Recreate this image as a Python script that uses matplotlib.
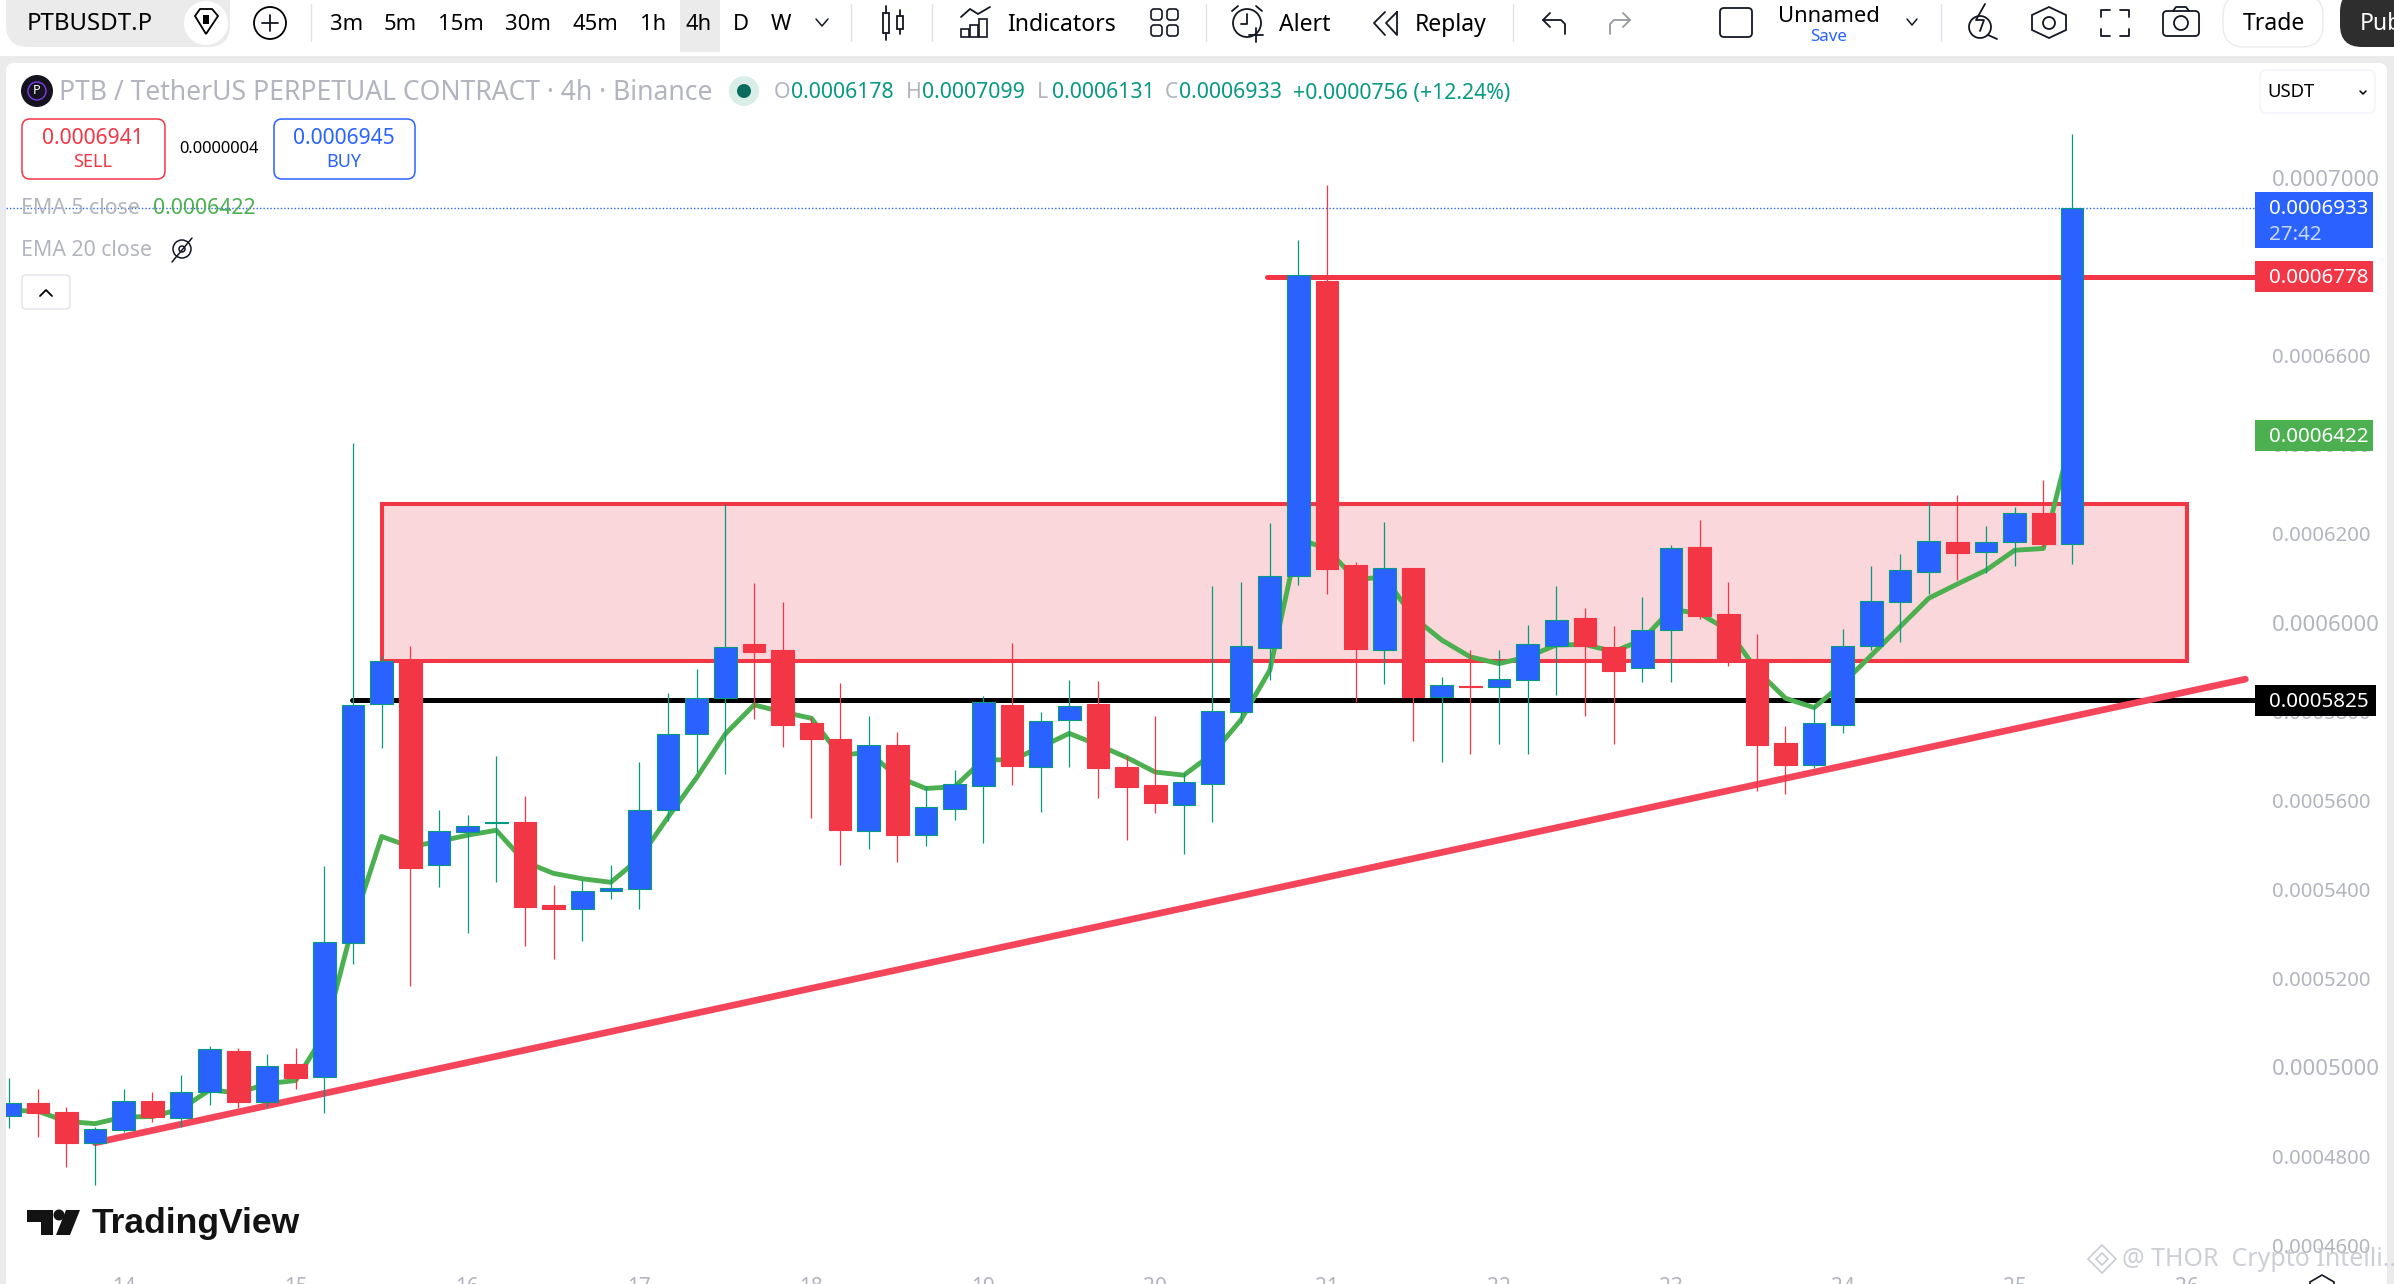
import numpy as np
import matplotlib
matplotlib.use("Agg")
import matplotlib.pyplot as plt
from matplotlib.patches import Rectangle, FancyBboxPatch, Circle, Polygon

plt.rcParams['font.family'] = ['Noto Sans', 'DejaVu Sans']

# ---------- data, prices in units of 1e-7 ----------
opens = [4891, 4920, 4900, 4829, 4859, 4925, 4886, 4944, 5036, 4922, 5008, 4977, 5279, 5818, 5914, 5454, 5530, 5550, 5552,
         5365, 5355, 5397, 5402, 5578, 5750, 5830, 5952, 5939, 5774, 5738, 5532, 5725, 5523, 5582, 5633, 5815, 5676, 5780,
         5817, 5675, 5635, 5591, 5636, 5800, 5942, 6106, 6769, 6130, 5939, 6123, 5833, 5858, 5856, 5870, 5948, 6011, 5945,
         5897, 5984, 6170, 6020, 5918, 5729, 5680, 5770, 5948, 6047, 6113, 6182, 6159, 6182, 6247, 6178]
highs = [4976, 4951, 4911, 4866, 4951, 4944, 4983, 5047, 5043, 5030, 5044, 5453, 6404, 5924, 5947, 5579, 5568, 5701, 5610,
         5411, 5421, 5455, 5687, 5842, 5896, 6267, 6089, 6046, 5787, 5864, 5790, 5754, 5633, 5669, 5835, 5954, 5799, 5871,
         5869, 5701, 5790, 5661, 6083, 6092, 6224, 6861, 6985, 6137, 6227, 6123, 5878, 5939, 5939, 5995, 6083, 6033, 5993,
         6058, 6174, 6231, 6092, 5975, 5768, 5815, 5986, 6128, 6155, 6272, 6287, 6218, 6260, 6322, 7099]
lows = [4864, 4843, 4776, 4735, 4855, 4876, 4866, 4915, 4908, 4910, 4952, 4897, 5232, 5718, 5183, 5406, 5302, 5417, 5273,
        5243, 5284, 5378, 5356, 5554, 5665, 5660, 5784, 5720, 5560, 5455, 5491, 5462, 5498, 5556, 5504, 5635, 5574, 5675,
        5606, 5511, 5572, 5480, 5552, 5774, 5871, 6085, 6065, 5822, 5862, 5734, 5687, 5705, 5727, 5705, 5837, 5790, 5727,
        5867, 5867, 6009, 5903, 5621, 5615, 5672, 5752, 5939, 5957, 6065, 6096, 6111, 6128, 6170, 6131]
closes = [4920, 4898, 4829, 4861, 4925, 4889, 4944, 5041, 4922, 5003, 4976, 5282, 5814, 5914, 5449, 5531, 5543, 5552, 5361,
          5356, 5397, 5403, 5579, 5749, 5830, 5946, 5935, 5770, 5739, 5534, 5725, 5522, 5585, 5637, 5822, 5678, 5779, 5813,
          5673, 5630, 5594, 5642, 5801, 5948, 6105, 6782, 6121, 5941, 6122, 5833, 5859, 5855, 5873, 5951, 6005, 5948, 5891,
          5983, 6167, 6015, 5914, 5725, 5680, 5774, 5948, 6049, 6119, 6184, 6157, 6182, 6247, 6177, 6933]
ema5 = [4903, 4901, 4878, 4873, 4888, 4889, 4906, 4949, 4942, 4963, 4970, 5074, 5321, 5519, 5496, 5508, 5522, 5533, 5462,
        5436, 5424, 5416, 5470, 5563, 5652, 5750, 5815, 5799, 5785, 5701, 5709, 5653, 5627, 5631, 5692, 5691, 5720, 5751,
        5725, 5697, 5664, 5657, 5705, 5782, 5893, 6189, 6166, 6097, 6103, 6013, 5961, 5923, 5908, 5923, 5950, 5951, 5935,
        5961, 6030, 6021, 5983, 5893, 5830, 5809, 5863, 5927, 5991, 6055, 6087, 6118, 6163, 6167, 6422]

zone_top, zone_bottom = 6266, 5913
resistance = 6778
support = 5825
last_close = 6933
trend_idx = [3, 78.05]
trend_val = [4830, 5873]
zone_idx = [13.0, 76.0]
res_start = 43.9
sup_start = 11.96

price_ticks = [4600, 4800, 5000, 5200, 5400, 5600, 5800, 6000, 6200, 6400, 6600, 6800, 7000]
date_idx = [4, 10, 16, 22, 28, 34, 40, 46, 52, 58, 64, 70, 76]
date_labels = ['14', '15', '16', '17', '18', '19', '20', '21', '22', '23', '24', '25', '26']

BLUE = '#2962ff'
RED = '#f23645'
TEAL = '#089981'
GREEN = '#4caf50'
GREY = '#b2b5be'
DARK = '#131722'
W, H = 2394, 1284

fig = plt.figure(figsize=(W / 100, H / 100), dpi=100, facecolor='#ebebeb')

# ---------- background panels ----------
bg = fig.add_axes([0, 0, 1, 1], zorder=0)
bg.set_xlim(0, W)
bg.set_ylim(H, 0)
bg.axis('off')
bg.add_patch(Rectangle((0, 0), W, 56, fc='white', ec='none'))
bg.add_patch(FancyBboxPatch((12, 69), 2369, 1300, boxstyle='round,pad=6,rounding_size=8', fc='white', ec='none'))

# ---------- price chart ----------
px_l, px_r, px_t, px_b = 6, 2256, 63, 1270
STEP = 28.65
ax = fig.add_axes([px_l / W, 1 - px_b / H, (px_r - px_l) / W, (px_b - px_t) / H], zorder=1)
ax.patch.set_alpha(0)
ax.set_xlim((px_l - 9.2) / STEP, (px_r - 9.2) / STEP)
PX_U = 2.2497  # price units per pixel
ax.set_ylim(6000 - (px_b - 622.7) * PX_U, 6000 + (622.7 - px_t) * PX_U)
for s in ax.spines.values():
    s.set_visible(False)

idx = np.arange(len(opens))
o, h, l, c = map(np.array, (opens, highs, lows, closes))
up = c >= o
body_col = np.where(up, BLUE, RED)
edge_col = np.where(up, TEAL, RED)

ax.axhline(last_close, color=BLUE, lw=1, ls=(0, (1, 1.5)), zorder=1)
ax.fill_between(zone_idx, zone_bottom, zone_top, facecolor='#fad7da', edgecolor='none', zorder=1.5)
ax.add_patch(Rectangle((zone_idx[0], zone_bottom), zone_idx[1] - zone_idx[0], zone_top - zone_bottom,
                       fc='none', ec=RED, lw=2.9, zorder=2))
ax.plot([sup_start, ax.get_xlim()[1]], [support, support], color='black', lw=3.6, zorder=2.2, solid_capstyle='round')
ax.plot([res_start, ax.get_xlim()[1]], [resistance, resistance], color=RED, lw=3.6, zorder=2.2, solid_capstyle='round')
ax.plot(trend_idx, trend_val, color='#f4455a', lw=4.8, zorder=2.3, solid_capstyle='round')
ax.plot(idx, ema5, color=GREEN, lw=3.5, zorder=2.5)
ax.vlines(idx, l, h, colors=edge_col, lw=0.9, zorder=3)
ax.bar(idx, np.abs(c - o), bottom=np.minimum(o, c), width=0.79, color=body_col, edgecolor=edge_col, lw=0.8, zorder=4)

ax.yaxis.tick_right()
ax.set_yticks(price_ticks)
ax.set_yticklabels(['%.7f' % (p * 1e-7) for p in price_ticks], color=GREY)
# whole 0.0001 steps are drawn larger than the ones between
for p, lab in zip(price_ticks, ax.get_yticklabels()):
    lab.set_fontsize(16 if p % 1000 == 0 else 14.6)
ax.set_xticks(date_idx)
ax.set_xticklabels(date_labels, color=GREY, fontsize=15)
ax.tick_params(axis='y', length=0, pad=11.5)
ax.tick_params(axis='x', length=0, pad=5)
ax.grid(False)

# ---------- toolbar, legend, labels in screen pixels ----------
ui = fig.add_axes([0, 0, 1, 1], zorder=2)
ui.patch.set_alpha(0)
ui.set_xlim(0, W)
ui.set_ylim(H, 0)
ui.axis('off')


def txt(x, y, s, size=21, color=DARK, ha='left', weight='normal', **kw):
    return ui.text(x, y + 2, s, fontsize=size * 0.72, color=color, ha=ha, va='center', weight=weight, zorder=5, **kw)


def box(x0, y0, x1, y1, fc='white', ec='none', r=6, lw=1.0, z=2):
    ui.add_patch(FancyBboxPatch((x0 + r, y0 + r), x1 - x0 - 2 * r, y1 - y0 - 2 * r,
                                boxstyle='round,pad=%d,rounding_size=%d' % (r, r), fc=fc, ec=ec, lw=lw, zorder=z))


def pl(xs, ys, color=DARK, lw=1.3):
    ui.plot(xs, ys, color=color, lw=lw, solid_capstyle='round', solid_joinstyle='round', zorder=5)


# symbol pill
box(6, -20, 230, 47, fc='#ebebeb', r=22, z=1)
ui.add_patch(Circle((206, 23), 22, fc='white', ec='none', zorder=2))
txt(27, 22, 'PTBUSDT.P', size=24, weight='medium', color='black')
ui.add_patch(Polygon([[195, 16], [200, 9], [212, 9], [218, 16], [206, 34]], fc='white', ec='black', lw=1.3, zorder=3))
ui.add_patch(Rectangle((203, 15), 6, 9, fc='black', zorder=3))
ui.add_patch(Circle((270, 23), 16, fc='white', ec='black', lw=1.3, zorder=3))
pl([262, 278], [23, 23])
pl([270, 270], [15, 31])

ui.add_patch(Rectangle((680, 0), 40, 52, fc='#ebebeb', ec='none', zorder=1))
for name, x in zip(['3m', '5m', '15m', '30m', '45m', '1h', '4h', 'D', 'W'],
                   [347, 400, 461, 528, 595, 653, 699, 741, 781]):
    txt(x, 22, name, size=22, ha='center', color='black')
pl([816, 822, 828], [19, 26, 19], lw=1.1)
for x in [311, 851, 932, 1206, 1513, 1941]:
    pl([x, x], [4, 41], color='#e0e3eb', lw=1.0)

# candle icon
pl([886, 886], [6, 40])
ui.add_patch(Rectangle((883, 13), 6, 20, fc='white', ec=DARK, lw=1.3, zorder=6))
pl([900, 900], [10, 34])
ui.add_patch(Rectangle((897, 16), 6, 13, fc='white', ec=DARK, lw=1.3, zorder=6))
# indicators icon
pl([961, 970, 978, 990], [17, 9, 14, 7])
for x, top in zip([961, 970, 979], [29, 25, 19]):
    ui.add_patch(Rectangle((x, top), 8, 37 - top, fc='white', ec=DARK, lw=1.2, zorder=3))
txt(1007, 23, 'Indicators', size=23, color='black')
# layout icon
for x, y in [(1151, 9), (1167, 9), (1151, 25), (1167, 25)]:
    box(x, y, x + 11, y + 11, fc='white', ec=DARK, r=3, lw=1.2)
# alert
ui.add_patch(Circle((1247, 23), 14, fc='white', ec=DARK, lw=1.3, zorder=3))
pl([1247, 1247, 1241], [14, 24, 24])
pl([1256, 1256], [28, 42])
pl([1249, 1263], [35, 35])
pl([1232, 1238], [11, 6])
pl([1256, 1262], [6, 11])
txt(1279, 23, 'Alert', size=23, color='black')
# replay
pl([1385, 1374, 1385], [12, 23, 35])
pl([1397, 1386, 1397, 1397], [12, 23, 35, 12])
txt(1415, 23, 'Replay', size=23, color='black')
# undo, redo
pl([1565, 1565, 1561, 1543], [34, 24, 20, 20])
pl([1550, 1543, 1550], [13, 20, 27])
pl([1610, 1610, 1614, 1630], [34, 24, 20, 20], color='#9598a1')
pl([1623, 1630, 1623], [13, 20, 27], color='#9598a1')
# layouts
box(1720, 8, 1752, 37, fc='white', ec=DARK, r=4, lw=1.3)
txt(1829, 15, 'Unnamed', size=22, ha='center', color='black')
txt(1829, 35, 'Save', size=17, ha='center', color=BLUE)
pl([1907, 1912, 1917], [19, 25, 19], lw=1.1)
# quick search
ui.add_patch(Circle((1980, 27), 11, fc='none', ec=DARK, lw=1.3))
pl([1988, 1997], [35, 39])
pl([1985, 1976, 1984, 1980], [4, 20, 20, 31])
# settings
ui.add_patch(Polygon([[2049, 7], [2066, 15], [2066, 30], [2049, 38], [2032, 30], [2032, 15]], fc='white', ec=DARK, lw=1.3, zorder=3))
ui.add_patch(Circle((2049, 23), 6, fc='white', ec=DARK, lw=1.3, zorder=4))
# fullscreen
for sx, sy in [(-1, -1), (1, -1), (-1, 1), (1, 1)]:
    pl([2115 + sx * 14, 2115 + sx * 14, 2115 + sx * 5], [23 + sy * 6, 23 + sy * 13, 23 + sy * 13])
# camera
box(2163, 11, 2199, 36, fc='white', ec=DARK, r=4, lw=1.3)
ui.add_patch(Circle((2181, 23), 7, fc='white', ec=DARK, lw=1.3, zorder=3))
pl([2173, 2176, 2186, 2189], [11, 7, 7, 11])
box(2223, -6, 2323, 47, fc='white', ec='#ebebeb', r=22)
txt(2274, 22, 'Trade', size=23, ha='center', color='black')
box(2340, -10, 2440, 47, fc='#2e2e2e', r=22)
txt(2360, 22, 'Pub', size=23, color='white')

# legend row
ui.add_patch(Circle((37, 91), 16, fc='#15131f', ec='none', zorder=3))
ui.add_patch(Circle((37, 91), 9, fc='none', ec='#7b3fe4', lw=1, zorder=3))
ui.text(37, 91, 'P', color='white', fontsize=9, ha='center', va='center', zorder=4)
txt(59, 91, 'PTB / TetherUS PERPETUAL CONTRACT \u00b7 4h \u00b7 Binance', size=26.5, color=GREY)
ui.add_patch(Circle((744, 91), 15, fc='#d9ede9', ec='none', zorder=3))
ui.add_patch(Circle((744, 91), 7, fc='#0b6b5c', ec='none', zorder=4))
for lab, x_lab, val, x_val in [('O', 774, '0.0006178', 791), ('H', 906, '0.0007099', 922),
                               ('L', 1037, '0.0006131', 1052), ('C', 1165, '0.0006933', 1179)]:
    txt(x_lab, 91, lab, size=21.3, color=GREY)
    txt(x_val, 91, val, size=21.3, color=TEAL)
txt(1293, 91, '+0.0000756 (+12.24%)', size=21.3, color=TEAL)

box(22, 119, 165, 179, ec=RED, r=8, lw=1.1)
txt(93, 136, '0.0006941', size=21, color=RED, ha='center')
txt(93, 160, 'SELL', size=18, color=RED, ha='center')
txt(219, 147, '0.0000004', size=16.5, color='black', ha='center')
box(274, 119, 415, 179, ec=BLUE, r=8, lw=1.1)
txt(344, 136, '0.0006945', size=21, color=BLUE, ha='center')
txt(344, 160, 'BUY', size=18, color=BLUE, ha='center')

txt(21, 206, 'EMA 5 close', size=21.3, color=GREY)
txt(153, 206, '0.0006422', size=21.3, color=GREEN)
txt(21, 248, 'EMA 20 close', size=21.3, color=GREY)
ui.add_patch(Circle((182, 249), 9, fc='none', ec=DARK, lw=1.1))
ui.add_patch(Circle((182, 249), 3, fc='none', ec=DARK, lw=1.1))
pl([172, 192], [262, 238], lw=1.1)
box(22, 275, 70, 309, ec='#e0e3eb', r=4, lw=1.0)
pl([40, 46, 52], [296, 290, 296], color='black', lw=1.3)

# right scale labels
box(2260, 70, 2375, 113, ec='#f0f3fa', r=6, lw=1.0)
txt(2267, 90, 'USDT', size=18.5, color='black')
pl([2360, 2363, 2366], [91, 94, 91], color='black', lw=1.1)
for y0, y1, x1, col, label, yt in [(261, 292, 2373, RED, '0.0006778', 278), (420, 451, 2373, GREEN, '0.0006422', 437),
                                   (685, 716, 2376, 'black', '0.0005825', 702)]:
    ui.add_patch(Rectangle((2255, y0), x1 - 2255, y1 - y0, fc=col, ec='none', zorder=3))
    ui.text(2269, yt, label, fontsize=14.8, color='white', va='center', zorder=4)
ui.add_patch(Rectangle((2255, 192), 118, 56, fc=BLUE, ec='none', zorder=3))
ui.text(2269, 209, '0.0006933', fontsize=14.8, color='white', va='center', zorder=4)
ui.text(2269, 235, '27:42', fontsize=14.8, color='#c9d6ff', va='center', zorder=4)

# TradingView logo
ui.add_patch(Polygon([[27, 1210], [53, 1210], [53, 1235], [41, 1235], [41, 1222], [27, 1222]], fc='#131313', ec='none'))
ui.add_patch(Circle((59, 1215), 5.5, fc='#131313', ec='none'))
ui.add_patch(Polygon([[66, 1210], [80, 1210], [70, 1235], [56, 1235]], fc='#131313', ec='none'))
txt(92, 1222, 'TradingView', size=35.5, color='#131313', weight='bold', family=['Liberation Sans'])

# watermark
ui.add_patch(Polygon([[2102, 1245], [2116, 1259], [2102, 1273], [2088, 1259]], fc='none', ec='#c9ccd4', lw=1.2))
ui.add_patch(Polygon([[2102, 1253], [2108, 1259], [2102, 1265], [2096, 1259]], fc='none', ec='#c9ccd4', lw=1.2))
txt(2122, 1257, '@ THOR  Crypto Intelli...', size=25, color='#c4c7cf', alpha=0.85, clip_on=True)
ui.add_patch(Polygon([[2322, 1275], [2334, 1282], [2334, 1296], [2310, 1296], [2310, 1282]], fc='white', ec=DARK, lw=1.2))
ui.add_patch(Rectangle((2387, 56), 7, H, fc='#ebebeb', ec='none', zorder=2.4))

fig.savefig('out.png', dpi=100, facecolor=fig.get_facecolor())
